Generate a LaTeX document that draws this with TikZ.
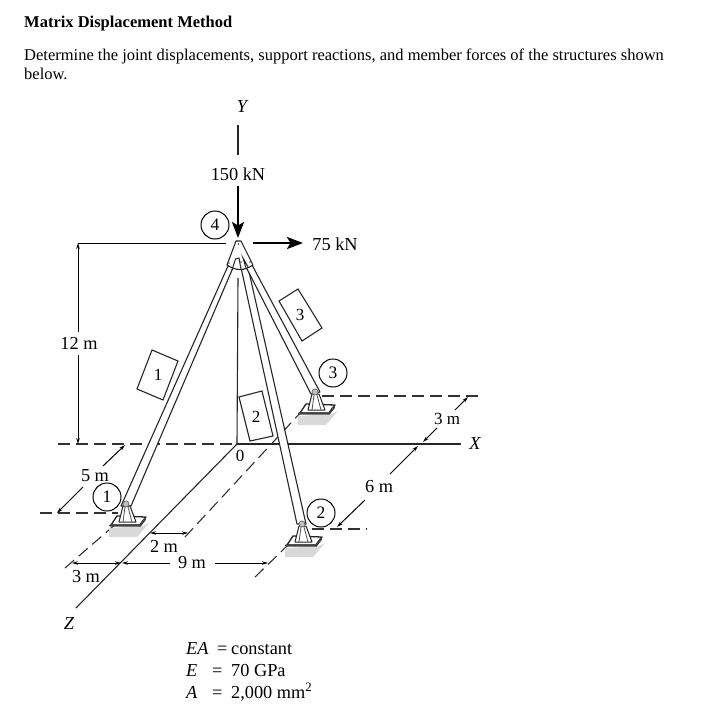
\documentclass[tikz,border=0pt]{standalone}
\usepackage{fontspec}
\setmainfont{Liberation Serif}
\usetikzlibrary{arrows.meta}
\tikzset{
  x=1pt,y=-1pt,
  txt/.style={inner sep=0pt,anchor=base west,font=\fontsize{16.5}{18}\selectfont},
  lab/.style={inner sep=0pt,font=\fontsize{18.3}{20}\selectfont},
  smlab/.style={inner sep=0pt,font=\fontsize{17}{20}\selectfont},
  axis/.style={line width=1.1pt,draw=black!85},
  dash line/.style={line width=1.1pt,draw=black!80,dash pattern=on 12pt off 6pt},
  dim/.style={line width=1pt,{Stealth[length=6pt,width=3.5pt]}-{Stealth[length=6pt,width=3.5pt]}},
  dimend/.style={line width=1pt,-{Stealth[length=6pt,width=3.5pt]}},
  load/.style={line width=2.6pt,-{Stealth[length=16pt,width=12pt,inset=3.5pt]}},
  jointc/.style={circle,draw,line width=1pt,minimum size=28pt,inner sep=0pt,font=\fontsize{17.5}{20}\selectfont},
  member/.style={draw=black!85,fill=white,line width=1.1pt,line join=round},
  tagbox/.style={draw=black!85,line width=1.1pt,fill=white},
  support/.pic={
    \fill[black!15] (-17,24) -- (-17,33) -- (11,33) -- (23,19) -- (17,22) -- cycle;
    \draw[line width=1.3pt,fill=white,line join=round,draw=black!85] (-15,21) -- (-9,12) -- (20,13) -- (14,21) -- cycle;
    \draw[line width=2.4pt,draw=black!75,line cap=round] (-16,21.5) -- (14,21.5) -- (19,15);
    \draw[line width=1pt,fill=white,line join=round,draw=black!85] (-7,18) -- (-3,2) -- (4,2) -- (10,18) -- cycle;
    \draw[line width=.8pt,draw=black!70] (-1,3) -- (-3,18) (2,3) -- (6,18);
    \draw[line width=.7pt,draw=black!60,fill=black!25] (0,0) circle (3);
  }
}
\begin{document}
\begin{tikzpicture}
\fill[white] (0,0) rectangle (703,717);
\useasboundingbox (0,0) rectangle (703,717);
% text block
\node[txt,font=\fontsize{16.5}{18}\selectfont\bfseries] (title) at (24,28) {Matrix Displacement Method};
\node[txt] (l1) at (24,60) {Determine the joint displacements, support reactions, and member forces of the structures shown};
\node[txt] (l2) at (24,79) {below.};
% reference points
\coordinate (O) at (237,444);
\coordinate (J) at (238,241);
\coordinate (Xe) at (461,444);
\coordinate (Ze) at (76,608);
\coordinate (Yt) at (238,125);
\coordinate (Yb) at (238,155);
\coordinate (Yi) at (238,278);
\coordinate (P1) at (126,504);
\coordinate (P2) at (302,524);
\coordinate (P3) at (315,392);
% dashed construction lines
\coordinate (d1a) at (58,444);
\draw[dash line] (d1a) -- (O);
\coordinate (d2a) at (40,513); \coordinate (d2b) at (118,513);
\draw[dash line] (d2a) -- (d2b);
\coordinate (d3a) at (65,568); \coordinate (d3b) at (117,523);
\draw[dash line] (d3a) -- (d3b);
\coordinate (d4a) at (185,537); \coordinate (d4b) at (302,411);
\draw[dash line] (d4a) -- (d4b);
\coordinate (d5a) at (255,577); \coordinate (d5b) at (287,546);
\draw[dash line] (d5a) -- (d5b);
\coordinate (d6a) at (322,396); \coordinate (d6b) at (480,396);
\draw[dash line] (d6a) -- (d6b);
\coordinate (d7a) at (312,529); \coordinate (d7b) at (367,529);
\draw[dash line] (d7a) -- (d7b);
% axes
\draw[axis] (O) -- (Xe);
\draw[axis] (O) -- (Ze);
\draw[axis] (O) -- (Yi);
\draw[axis] (Yt) -- (Yb);
\node[lab,font=\fontsize{18.3}{20}\selectfont\itshape] (Y) at (242,107) {Y};
\node[lab,font=\fontsize{18.3}{20}\selectfont\itshape] (X) at (475,444) {X};
\node[lab,font=\fontsize{18.3}{20}\selectfont\itshape] (Z) at (69,624) {Z};
\node[smlab] (zero) at (240,456) {0};
% members
\coordinate (m1a) at (228,266); \coordinate (m1b) at (235,263);
\coordinate (m1c) at (131,506); \coordinate (m1d) at (121,506);
\path[member] (m1a) -- (m1b) -- (m1c) -- (m1d) -- cycle;
\coordinate (m2a) at (240,263); \coordinate (m2b) at (247,263);
\coordinate (m2c) at (306,524); \coordinate (m2d) at (297,524);
\path[member] (m2a) -- (m2b) -- (m2c) -- (m2d) -- cycle;
\coordinate (m3a) at (245,265); \coordinate (m3b) at (252,265);
\coordinate (m3c) at (320,392); \coordinate (m3d) at (311,394);
\path[member] (m3a) -- (m3b) -- (m3c) -- (m3d) -- cycle;
% gusset at the apex
\coordinate (c1) at (236,241); \coordinate (c2) at (241,241);
\coordinate (c3) at (253,265); \coordinate (c4) at (227,265);
\draw[line width=1.1pt,draw=black!85,fill=white,line join=round] (c1) -- (c2) -- (c3) .. controls (244,271) and (236,271) .. (c4) -- cycle;
\draw[line width=1pt,draw=black!85] (232,270) -- (235.5,259) -- (239,258) -- (241,269);
\draw[line width=1pt,draw=black!85] (246,268) -- (243,258) -- (248,267);
\fill[black!70] (238.5,244) circle (.8) (229,263) circle (.8) (250,262) circle (.8) (241,262) circle (.8);
% supports
\pic at (P1) {support};
\pic at (P2) {support};
\pic at (P3) {support};
% joint labels
\node[jointc] (n4) at (215,225) {4};
\node[jointc] (n1) at (107,497) {1};
\node[jointc] (n2) at (321,513) {2};
\node[jointc] (n3) at (333,373) {3};
% member tags
\draw[tagbox] (152,350) -- (178,361) -- (163,400) -- (137,389) -- cycle;
\node[smlab] (t1) at (158,375) {1};
\draw[tagbox] (239,397) -- (262,391) -- (273,436) -- (250,441) -- cycle;
\node[smlab] (t2) at (256,417) {2};
\draw[tagbox] (279,301) -- (298,289) -- (322,328) -- (302,341) -- cycle;
\node[smlab] (t3) at (300,315) {3};
% loads
\node[lab] (p150) at (238,174) {150 kN};
\coordinate (l1s) at (238,186); \coordinate (l1e) at (238,238);
\draw[load] (l1s) -- (l1e);
\coordinate (l2s) at (253,243); \coordinate (l2e) at (303,243);
\draw[load] (l2s) -- (l2e);
\node[lab] (p75) at (335,244) {75 kN};
% height dimension
\coordinate (h0) at (226,243); \coordinate (h1) at (78,243);
\coordinate (h2) at (78,332); \coordinate (h3) at (78,355); \coordinate (h4) at (78,444);
\draw[line width=1pt] (h0) -- (h1);
\draw[dimend] (h2) -- (h1);
\draw[dimend] (h3) -- (h4);
\node[lab] (d12) at (79,343) {12 m};
% 5 m
\coordinate (a1) at (83,487); \coordinate (a2) at (57,513);
\coordinate (a3) at (103,466); \coordinate (a4) at (125,445);
\draw[dimend] (a1) -- (a2);
\draw[dimend] (a3) -- (a4);
\node[lab] (d5) at (95,476) {5 m};
% 2 m
\coordinate (b1) at (150,533); \coordinate (b2) at (188,533);
\draw[dim] (b1) -- (b2);
\node[lab] (d2) at (164,546) {2 m};
% 3 m left, 9 m
\coordinate (e1) at (72,563); \coordinate (e2) at (121,563);
\draw[dim] (e1) -- (e2);
\node[lab] (d3) at (86,577) {3 m};
\coordinate (f1) at (170,563); \coordinate (f2) at (122,563);
\coordinate (f3) at (215,563); \coordinate (f4) at (268,563);
\draw[dimend] (f1) -- (f2);
\draw[dimend] (f3) -- (f4);
\node[lab] (d9) at (192,563) {9 m};
% 3 m right
\coordinate (g1) at (455,410); \coordinate (g2) at (468,397);
\coordinate (g3) at (437,428); \coordinate (g4) at (423,442);
\draw[dimend] (g1) -- (g2);
\draw[dimend] (g3) -- (g4);
\node[smlab] (d3r) at (447,419) {3 m};
% 6 m
\coordinate (k1) at (390,474); \coordinate (k2) at (418,446);
\coordinate (k3) at (365,500); \coordinate (k4) at (337,527);
\draw[dimend] (k1) -- (k2);
\draw[dimend] (k3) -- (k4);
\node[lab] (d6) at (379,487) {6 m};
% properties
\node[lab,anchor=base west] (q1) at (186,654) {\makebox[31pt][l]{\textit{EA}}\makebox[14pt][l]{=}constant};
\node[lab,anchor=base west] (q2) at (186,676) {\makebox[26pt][l]{\textit{E}}\makebox[19pt][l]{=}70 GPa};
\node[lab,anchor=base west] (q3) at (186,698) {\makebox[26pt][l]{\textit{A}}\makebox[19pt][l]{=}2,000 mm\textsuperscript{2}};
\end{tikzpicture}
\end{document}
